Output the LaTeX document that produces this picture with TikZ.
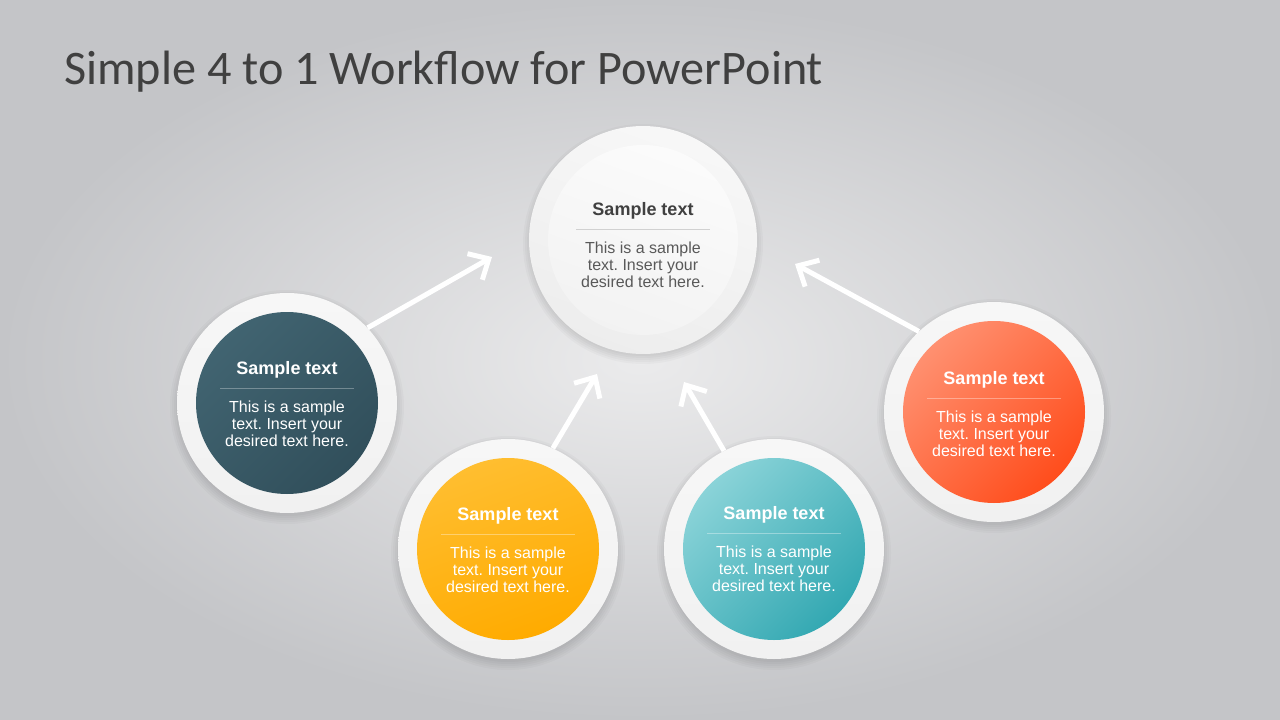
\documentclass[tikz,border=0pt]{standalone}
\usepackage{fontspec}
\setmainfont{Liberation Sans}
\newfontfamily\titlefont{Carlito}
\usetikzlibrary{arrows.meta,calc}
\definecolor{bgin}{HTML}{EBEBEC}
\definecolor{bgout}{HTML}{C4C5C8}
\definecolor{ringc}{HTML}{F7F7F7}
\definecolor{ringd}{HTML}{F1F1F1}
\definecolor{darkA}{HTML}{416471}
\definecolor{darkB}{HTML}{314F5B}
\definecolor{yelA}{HTML}{FFBE30}
\definecolor{yelB}{HTML}{FFAB00}
\definecolor{tealA}{HTML}{8AD3D8}
\definecolor{tealB}{HTML}{33A8B2}
\definecolor{oraA}{HTML}{FF9070}
\definecolor{oraB}{HTML}{FF4D1C}
\definecolor{titlec}{HTML}{404040}
\definecolor{ctitle}{HTML}{404040}
\definecolor{cbody}{HTML}{595959}
\newcommand\softshadow[3]{\foreach \k in {0,2,...,8}{\fill[black,opacity=0.025] (#1,#2+4) circle[radius=#3+\k];}}
\newcommand\circtext[6]{%
  \node[ttl, text=#2] (#1t) at ($(#1)+(0,-33+#6)$) {Sample text};
  \draw[#4, line width=0.8pt, opacity=#5] ($(#1)+(-67,-15+#6)$) coordinate (#1la) -- ($(#1)+(67,-15+#6)$) coordinate (#1lb);
  \node[bdy, text=#3] (#1b) at ($(#1)+(0,21+#6)$) {This is a sample\\text. Insert your\\desired text here.};}
\begin{document}
\frenchspacing
\begin{tikzpicture}[x=1pt,y=-1pt,
  ring/.style={circle, inner sep=0pt, minimum size=220pt, top color=ringc, bottom color=ringd},
  disc/.style={circle, inner sep=0pt, minimum size=182pt},
  ttl/.style={font=\bfseries\fontsize{18}{20}\selectfont, inner sep=0pt},
  bdy/.style={font=\fontsize{16}{17}\selectfont, align=center, inner sep=0pt},
  arr/.style={draw=white, line width=5pt, -{Straight Barb[length=16pt,width=30pt]}}]
\useasboundingbox (0,0) rectangle (1280,720);
\fill[inner color=bgin, outer color=bgout] (0,0) rectangle (1280,720);
\node[anchor=base west, font=\titlefont\fontsize{48.2}{50}\selectfont, text=titlec, inner sep=0pt] (title) at (64,84) {Simple 4 to 1 Workflow for PowerPoint};
% coordinates for arrow tips
\coordinate (tL) at (492,257);
\coordinate (tY) at (597,374);
\coordinate (tT) at (684,382);
\coordinate (tO) at (795,264);
% shadows
\softshadow{643}{240}{112}
\softshadow{287}{403}{109}
\softshadow{508}{549}{109}
\softshadow{774}{549}{109}
\softshadow{994}{412}{109}
% circles (outer rings)
\node[ring, minimum size=228pt, top color=white!97!black, bottom color=white!93!black, shading angle=-20] (C) at (643,240) {};
\node[ring] (L) at (287,403) {};
\node[ring] (Y) at (508,549) {};
\node[ring] (T) at (774,549) {};
\node[ring] (O) at (994,412) {};
% arrows
\draw[arr] (L.43) -- (tL);
\draw[arr] (Y.66) -- (tY);
\draw[arr] (T.117) -- (tT);
\draw[arr] (O.133) -- (tO);
% inner discs
\node[disc, minimum size=190pt, top color=white!98.5!black, bottom color=white!95!black, shading angle=-20] (Ci) at (C) {};
\node[disc, top color=darkA, bottom color=darkB, shading angle=45] (Li) at (L) {};
\node[disc, top color=yelA, bottom color=yelB, shading angle=20] (Yi) at (Y) {};
\node[disc, top color=tealA, bottom color=tealB, shading angle=45] (Ti) at (T) {};
\node[disc, top color=oraA, bottom color=oraB, shading angle=45] (Oi) at (O) {};
% texts
\circtext{C}{ctitle}{cbody}{black!18}{1}{4}
\circtext{L}{white}{white}{white}{0.3}{0}
\circtext{Y}{white}{white}{white}{0.35}{0}
\circtext{T}{white}{white}{white}{0.35}{-1}
\circtext{O}{white}{white}{white}{0.35}{1}
\end{tikzpicture}
\end{document}
